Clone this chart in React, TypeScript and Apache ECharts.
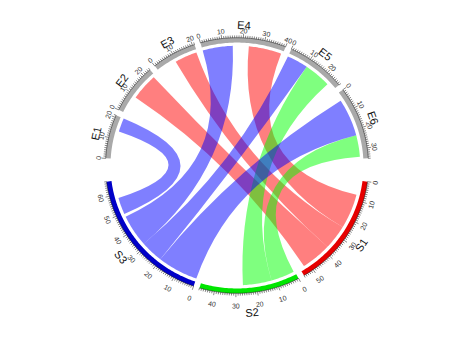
import React, { useEffect, useRef } from "react";
import * as echarts from "echarts";

// ---------- data ----------
const sourceNames = ["S1", "S2", "S3"];
const targetNames = ["E1", "E2", "E3", "E4", "E5", "E6"];
const sourceTotals = [55, 47, 67];
const targetTotals = [21, 24, 21, 40, 28, 35];

// links: source index, target index, occupied range on the source arc and on the target arc (arc units)
const linkSource = [0, 0, 0, 1, 1, 2, 2, 2, 2];
const linkTarget = [3, 2, 1, 5, 4, 5, 4, 3, 0];
const linkSourceFrom = [7.3, 25, 37.5, 0.6, 12.3, 0, 20.3, 31.6, 49.5];
const linkSourceTo = [25, 37.5, 52.6, 12.3, 26.6, 20.3, 31.6, 48, 58];
const linkTargetFrom = [22.9, 9.4, 9.3, 23, 10.6, 3.8, 0, 0, 14];
const linkTargetTo = [39.2, 20.6, 22.9, 34, 24.1, 23, 10.6, 15, 21];

const tickStep = 1;
const labelStep = 10;

// ---------- style ----------
const sourceBandColors = ["#e60000", "#00e600", "#0000c8"];
const targetBandColor = "#a9a9a9";
const linkColors = ["rgba(255,0,0,0.5)", "rgba(0,255,0,0.5)", "rgba(0,0,255,0.5)"];
const SMALL_GAP = 2.7;
const BIG_GAP = 10.5;
const BAND_IN = 0.962;
const RIBBON_R = 0.937;
const FONT = "'Liberation Sans', Arial, sans-serif";

type Grp = { name: string; total: number; start: number; color: string; side: "S" | "E" };

function buildLayout() {
  const sumS = sourceTotals.reduce((a, b) => a + b, 0);
  const sumE = targetTotals.reduce((a, b) => a + b, 0);
  const nGaps = sourceTotals.length - 1 + targetTotals.length - 1;
  const unit = (360 - 2 * BIG_GAP - nGaps * SMALL_GAP) / (sumS + sumE);
  const spanS = sumS * unit + (sourceTotals.length - 1) * SMALL_GAP;
  const spanE = sumE * unit + (targetTotals.length - 1) * SMALL_GAP;
  const groups: Grp[] = [];
  let a = 90 - spanS / 2;
  sourceTotals.forEach((t, i) => {
    groups.push({ name: sourceNames[i], total: t, start: a, color: sourceBandColors[i], side: "S" });
    a += t * unit + SMALL_GAP;
  });
  a = 270 - spanE / 2;
  targetTotals.forEach((t, i) => {
    groups.push({ name: targetNames[i], total: t, start: a, color: targetBandColor, side: "E" });
    a += t * unit + SMALL_GAP;
  });
  return { groups, unit };
}

const { groups, unit } = buildLayout();

function geom(api: any) {
  const W = api.getWidth();
  const H = api.getHeight();
  return { cx: W * 0.5, cy: H * 0.4897, rx: W * 0.2774, ry: H * 0.3781 };
}

function pt(g: any, theta: number, rf: number) {
  const t = (theta * Math.PI) / 180;
  return [g.cx + g.rx * rf * Math.cos(t), g.cy + g.ry * rf * Math.sin(t)];
}

function arcPts(g: any, a0: number, a1: number, rf: number) {
  const n = Math.max(2, Math.ceil(Math.abs(a1 - a0) / 0.8));
  const out: string[] = [];
  for (let k = 0; k <= n; k++) {
    const p = pt(g, a0 + ((a1 - a0) * k) / n, rf);
    out.push(p[0].toFixed(2) + " " + p[1].toFixed(2));
  }
  return out;
}

// control point of a link edge: centre for long chords, pulled toward the rim for short ones
function ctrl(g: any, a: number, b: number) {
  let d = Math.abs(a - b) % 360;
  let mid = (a + b) / 2;
  if (d > 180) {
    d = 360 - d;
    mid += 180;
  }
  const rc = Math.max(0, 0.5 - d / 90);
  const p = pt(g, mid, rc);
  return p[0].toFixed(2) + " " + p[1].toFixed(2);
}

function rotFor(theta: number) {
  const s = Math.sin((theta * Math.PI) / 180);
  const cw = s < 0 ? theta - 270 : theta - 90;
  return (-cw * Math.PI) / 180;
}

const renderLink = (params: any, api: any) => {
  const g = geom(api);
  const i = params.dataIndex;
  const sg = groups[linkSource[i]];
  const tg = groups[sourceTotals.length + linkTarget[i]];
  const s0 = sg.start + linkSourceFrom[i] * unit;
  const s1 = sg.start + linkSourceTo[i] * unit;
  const t0 = tg.start + linkTargetFrom[i] * unit;
  const t1 = tg.start + linkTargetTo[i] * unit;
  const sa = arcPts(g, s0, s1, RIBBON_R);
  const ta = arcPts(g, t0, t1, RIBBON_R);
  let d = "M " + sa[0];
  for (let k = 1; k < sa.length; k++) d += " L " + sa[k];
  d += ` Q ${ctrl(g, s1, t0)} ${ta[0]}`;
  for (let k = 1; k < ta.length; k++) d += " L " + ta[k];
  d += ` Q ${ctrl(g, t1, s0)} ${sa[0]} Z`;
  return {
    type: "path",
    shape: { pathData: d },
    style: { fill: linkColors[linkSource[i]], stroke: "none" },
  };
};

const renderGroup = (params: any, api: any) => {
  const g = geom(api);
  const grp = groups[params.dataIndex];
  const a0 = grp.start;
  const a1 = grp.start + grp.total * unit;
  const outer = arcPts(g, a0, a1, 1);
  const inner = arcPts(g, a1, a0, BAND_IN);
  let d = "M " + outer[0];
  for (let k = 1; k < outer.length; k++) d += " L " + outer[k];
  for (let k = 0; k < inner.length; k++) d += " L " + inner[k];
  d += " Z";
  const children: any[] = [
    { type: "path", shape: { pathData: d }, style: { fill: grp.color, stroke: "none" } },
  ];
  let td = "M " + outer[0];
  for (let k = 1; k < outer.length; k++) td += " L " + outer[k];
  td += " ";
  for (let v = 0; v <= grp.total + 1e-6; v += tickStep) {
    const th = a0 + v * unit;
    const len = v % labelStep === 0 ? 1.03 : 1.018;
    const p0 = pt(g, th, 1);
    const p1 = pt(g, th, len);
    td += `M ${p0[0].toFixed(2)} ${p0[1].toFixed(2)} L ${p1[0].toFixed(2)} ${p1[1].toFixed(2)} `;
  }
  children.push({
    type: "path",
    shape: { pathData: td },
    style: { fill: "none", stroke: "#111", lineWidth: 0.5 },
  });
  for (let v = 0; v <= grp.total + 1e-6; v += labelStep) {
    const th = a0 + v * unit;
    const s = Math.sin((th * Math.PI) / 180);
    const rf = 1.055 + 0.045 * Math.max(0, s);
    const p = pt(g, th, rf);
    children.push({
      type: "text",
      x: p[0],
      y: p[1],
      rotation: rotFor(th),
      style: {
        text: String(v),
        fontSize: 7,
        fontFamily: FONT,
        fill: "#333",
        align: "center",
        verticalAlign: "middle",
      },
    });
  }
  const mid = (a0 + a1) / 2;
  const sm = Math.sin((mid * Math.PI) / 180);
  const lr = grp.side === "E" ? 1.1 : 1.105 + 0.05 * sm;
  const lp = pt(g, mid, lr);
  children.push({
    type: "text",
    x: lp[0],
    y: lp[1],
    rotation: rotFor(mid),
    style: {
      text: grp.name,
      fontSize: 11,
      fontFamily: FONT,
      fill: "#111",
      align: "center",
      verticalAlign: "middle",
    },
  });
  return { type: "group", children };
};

export default function App() {
  const ref = useRef<HTMLDivElement>(null);
  useEffect(() => {
    if (!ref.current) return;
    const chart = echarts.init(ref.current, undefined, { renderer: "svg" });
    chart.setOption({
      animation: false,
      backgroundColor: "#ffffff",
      series: [
        {
          type: "custom",
          coordinateSystem: "none",
          data: linkSource.map((_, i) => i),
          renderItem: renderLink,
          silent: true,
        },
        {
          type: "custom",
          coordinateSystem: "none",
          data: groups.map((_, i) => i),
          renderItem: renderGroup,
          silent: true,
        },
      ],
    });
    return () => chart.dispose();
  }, []);
  return (
    <div
      ref={ref}
      style={{ position: "absolute", left: 0, top: 0, width: 474, height: 338 }}
    />
  );
}
